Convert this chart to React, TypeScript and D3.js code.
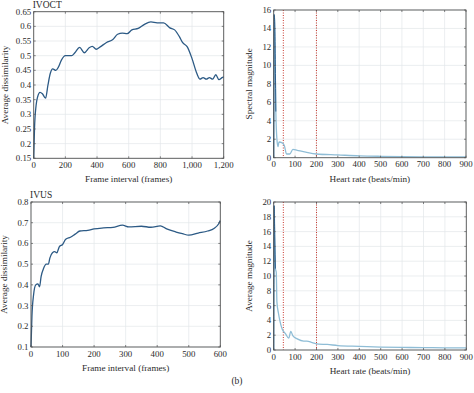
import React from 'react'
import * as d3 from 'd3'

// IVOCT average dissimilarity vs frame interval
const ivoctFrames = [0, 5, 15, 25, 40, 55, 75, 90, 105, 120, 140, 155, 175, 200, 240, 260, 290, 320, 350, 370, 395, 420, 460, 500, 530, 560, 590, 620, 660, 700, 740, 780, 820, 860, 890, 920, 940, 970, 1000, 1030, 1050, 1070, 1090, 1110, 1130, 1150, 1170, 1190, 1200]
const ivoctValues = [0.15, 0.25, 0.33, 0.36, 0.375, 0.37, 0.355, 0.4, 0.44, 0.455, 0.45, 0.46, 0.485, 0.5, 0.5, 0.51, 0.528, 0.51, 0.527, 0.532, 0.522, 0.53, 0.545, 0.555, 0.573, 0.577, 0.575, 0.588, 0.593, 0.607, 0.615, 0.612, 0.612, 0.595, 0.588, 0.565, 0.545, 0.53, 0.49, 0.44, 0.42, 0.425, 0.42, 0.425, 0.42, 0.435, 0.418, 0.425, 0.428]

// IVUS average dissimilarity vs frame interval
const ivusFrames = [0, 3, 8, 15, 22, 27, 32, 40, 48, 55, 60, 68, 75, 82, 90, 100, 110, 125, 140, 155, 180, 200, 230, 260, 290, 310, 350, 380, 410, 430, 460, 480, 500, 530, 560, 580, 595, 600]
const ivusValues = [0.1, 0.25, 0.35, 0.4, 0.405, 0.39, 0.44, 0.48, 0.5, 0.5, 0.53, 0.555, 0.56, 0.555, 0.585, 0.595, 0.62, 0.63, 0.645, 0.66, 0.663, 0.67, 0.675, 0.678, 0.688, 0.68, 0.683, 0.678, 0.685, 0.67, 0.655, 0.647, 0.64, 0.65, 0.66, 0.672, 0.695, 0.71]

// IVOCT spectrum
const octRates = [0, 2, 4, 10, 15, 20, 25, 40, 50, 60, 75, 90, 110, 150, 200, 300, 400, 500, 600, 700, 800, 900]
const octMagnitude = [0, 15.5, 15, 5, 2, 1.2, 1.7, 1.6, 1.3, 0.4, 0.4, 0.9, 0.8, 0.6, 0.4, 0.3, 0.2, 0.15, 0.12, 0.1, 0.1, 0.1]

// IVUS spectrum
const usRates = [0, 2, 5, 8, 12, 15, 22, 30, 40, 55, 70, 80, 90, 110, 140, 155, 180, 210, 250, 300, 400, 500, 600, 700, 800, 900]
const usMagnitude = [0, 19.5, 15, 11, 10.5, 6.5, 5, 3.8, 2.8, 2.2, 1.6, 2.5, 1.9, 1.5, 1.2, 1.2, 1.0, 0.8, 0.75, 0.6, 0.5, 0.4, 0.35, 0.32, 0.3, 0.3]

const heartBand = [45, 200]

const FONT = '"Liberation Serif", "DejaVu Serif", serif'

type PanelProps = {
  box: { left: number; right: number; top: number; bottom: number }
  xDomain: [number, number]
  yDomain: [number, number]
  xTicks: number[]
  yTicks: number[]
  xFmt: (v: number) => string
  yFmt: (v: number) => string
  xs: number[]
  ys: number[]
  color: string
  xLabel: string
  yLabel: string
  yLabelX: number
  title?: string
  band?: number[]
}

function Panel(p: PanelProps) {
  const x = d3.scaleLinear().domain(p.xDomain).range([p.box.left, p.box.right])
  const y = d3.scaleLinear().domain(p.yDomain).range([p.box.bottom, p.box.top])
  const line = d3.line<number>().x((_, i) => x(p.xs[i])).y(d => y(d)).curve(d3.curveMonotoneX)
  const w = p.box.right - p.box.left
  const h = p.box.bottom - p.box.top
  const cx = (p.box.left + p.box.right) / 2
  const cy = (p.box.top + p.box.bottom) / 2
  return (
    <g fontFamily={FONT} fill="#2b2b2b">
      <rect x={p.box.left} y={p.box.top} width={w} height={h} fill="#fff" />
      {p.xTicks.map(t => (
        <line key={'gx' + t} x1={x(t)} x2={x(t)} y1={p.box.top} y2={p.box.bottom} stroke="#e3e6ea" strokeWidth={0.7} />
      ))}
      {p.yTicks.map(t => (
        <line key={'gy' + t} x1={p.box.left} x2={p.box.right} y1={y(t)} y2={y(t)} stroke="#e3e6ea" strokeWidth={0.7} />
      ))}
      {p.band && p.band.map(b => (
        <line key={'b' + b} x1={x(b)} x2={x(b)} y1={p.box.top} y2={p.box.bottom} stroke="#c8362d" strokeWidth={1} strokeDasharray="1,1.5" />
      ))}
      <path d={line(p.ys) || ''} fill="none" stroke={p.color} strokeWidth={1.3} />
      {p.band && (
        <path d={line(p.ys.slice(0, 4)) || ''} fill="none" stroke="#2d5f8e" strokeWidth={1} />
      )}
      <rect x={p.box.left} y={p.box.top} width={w} height={h} fill="none" stroke="#555" strokeWidth={0.9} />
      {p.xTicks.map(t => (
        <g key={'tx' + t}>
          <line x1={x(t)} x2={x(t)} y1={p.box.bottom} y2={p.box.bottom - 2} stroke="#555" strokeWidth={0.7} />
          <line x1={x(t)} x2={x(t)} y1={p.box.top} y2={p.box.top + 2} stroke="#555" strokeWidth={0.7} />
          <text x={x(t)} y={p.box.bottom + 9.5} fontSize={8.8} textAnchor="middle">{p.xFmt(t)}</text>
        </g>
      ))}
      {p.yTicks.map(t => (
        <g key={'ty' + t}>
          <line x1={p.box.left} x2={p.box.left + 2} y1={y(t)} y2={y(t)} stroke="#555" strokeWidth={0.7} />
          <line x1={p.box.right} x2={p.box.right - 2} y1={y(t)} y2={y(t)} stroke="#555" strokeWidth={0.7} />
          <text x={p.box.left - 2.5} y={y(t) + 3} fontSize={8.8} textAnchor="end">{p.yFmt(t)}</text>
        </g>
      ))}
      <text x={cx} y={p.box.bottom + 24} fontSize={9.2} textAnchor="middle">{p.xLabel}</text>
      <text transform={`translate(${p.yLabelX},${cy}) rotate(-90)`} fontSize={9.2} textAnchor="middle">{p.yLabel}</text>
      {p.title && <text x={p.box.left - 1} y={p.box.top - 4} fontSize={9.5}>{p.title}</text>}
    </g>
  )
}

const fmtThousands = (v: number) => d3.format(',')(v)
const fmtPlain = (v: number) => String(v)

export default function App() {
  return (
    <svg width={474} height={393} style={{ position: 'absolute', left: 0, top: 0, background: '#fff' }}>
      <Panel
        box={{ left: 33.7, right: 223.7, top: 11.7, bottom: 158.3 }}
        xDomain={[0, 1200]}
        yDomain={[0.15, 0.65]}
        xTicks={[0, 200, 400, 600, 800, 1000, 1200]}
        yTicks={d3.range(0.15, 0.651, 0.05)}
        xFmt={fmtThousands}
        yFmt={v => String(+v.toFixed(2))}
        xs={ivoctFrames}
        ys={ivoctValues}
        color="#2c5a85"
        xLabel="Frame interval (frames)"
        yLabel="Average dissimilarity"
        yLabelX={8}
        title="IVOCT"
      />
      <Panel
        box={{ left: 273.7, right: 466, top: 10, bottom: 157.7 }}
        xDomain={[0, 900]}
        yDomain={[0, 16]}
        xTicks={d3.range(0, 901, 100)}
        yTicks={d3.range(0, 17, 2)}
        xFmt={fmtPlain}
        yFmt={fmtPlain}
        xs={octRates}
        ys={octMagnitude}
        color="#8fbdd6"
        xLabel="Heart rate (beats/min)"
        yLabel="Spectral magnitude"
        yLabelX={252}
        band={heartBand}
      />
      <Panel
        box={{ left: 31, right: 220.3, top: 202, bottom: 347 }}
        xDomain={[0, 600]}
        yDomain={[0.1, 0.8]}
        xTicks={d3.range(0, 601, 100)}
        yTicks={d3.range(0.1, 0.801, 0.1)}
        xFmt={fmtPlain}
        yFmt={v => String(+v.toFixed(1))}
        xs={ivusFrames}
        ys={ivusValues}
        color="#2c5a85"
        xLabel="Frame interval (frames)"
        yLabel="Average dissimilarity"
        yLabelX={7}
        title="IVUS"
      />
      <Panel
        box={{ left: 273.7, right: 466.3, top: 202, bottom: 350 }}
        xDomain={[0, 900]}
        yDomain={[0, 20]}
        xTicks={d3.range(0, 901, 100)}
        yTicks={d3.range(0, 21, 2)}
        xFmt={fmtPlain}
        yFmt={fmtPlain}
        xs={usRates}
        ys={usMagnitude}
        color="#8fbdd6"
        xLabel="Heart rate (beats/min)"
        yLabel="Average magnitude"
        yLabelX={252}
        band={heartBand}
      />
      <text x={237} y={384} fontSize={9.5} fontFamily={FONT} textAnchor="middle" fill="#2b2b2b">(b)</text>
    </svg>
  )
}
